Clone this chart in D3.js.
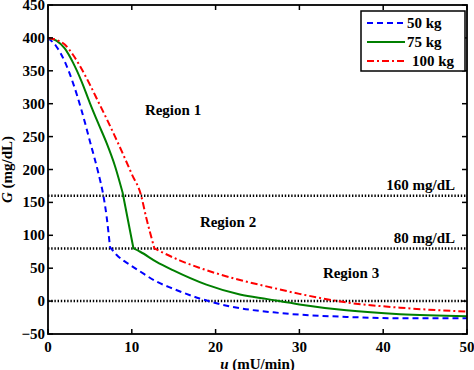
<!DOCTYPE html>
<html><head><meta charset="utf-8">
<script src="https://cdn.jsdelivr.net/npm/d3@7"></script>
<style>body{margin:0;background:#fff}svg{display:block}text{font-family:"Liberation Serif","Times New Roman",serif;font-weight:bold;font-size:15px;fill:#000}</style>
</head><body>
<script>
const xTicks = [0,10,20,30,40,50];
const yTicks = [-50,0,50,100,150,200,250,300,350,400,450];
const seriesNames = ["50 kg","75 kg","100 kg"];
const u50 = [0,1,2,3,4,5,6,6.6,7.0,7.4,8.2,9.8,11,12.9,14.9,18.1,21.7,27.6,35.6,42,50];
const g50 = [400,387,364,331,290,243,195,161,128,82,70,55,45,30,19,4,-8,-18,-24,-26,-26];
const kinks50 = [9];
const u75 = [0,1,2,3,4,5,6,7,8,8.9,10.2,11,12.9,14.9,18.9,22.9,26.2,30,35.6,42,50];
const g75 = [400,396,384,362,334,301,270,240,205,165,80,75,60,47,25,10,3,-5,-14,-20,-23];
const kinks75 = [9,10];
const u100 = [0,1,2,3,4,5,6,7,8,9,10,11.1,11.7,12.7,15.7,18.9,22.9,26.2,30,35.6,42,50];
const g100 = [400,397,390,374,353,329,303,277,250,222,193,161,128,80,62,47,32,22,11,-2,-10,-16];
const kinks100 = [13];
const thresholds = [160,80,0];
const thresholdLabels = ["160 mg/dL","80 mg/dL"];
const regionLabels = ["Region 1","Region 2","Region 3"];

const W=474,H=370;
const svg=d3.select("body").append("svg").attr("width",W).attr("height",H);
const x=d3.scaleLinear().domain([0,50]).range([48,467]);
const y=d3.scaleLinear().domain([-50,450]).range([334,5]);
const X0=x(0),X1=x(50),Y0=y(-50),Y1=y(450);

svg.selectAll("line.th").data(thresholds).enter().append("line")
  .attr("x1",X0).attr("x2",X1).attr("y1",d=>y(d)).attr("y2",d=>y(d))
  .attr("stroke","#000").attr("stroke-width",2.5).attr("stroke-dasharray","1.4,1.8");

const series=[
  {u:u50,g:g50,k:kinks50,color:"#0000ff",dash:"6,4"},
  {u:u75,g:g75,k:kinks75,color:"#007f00",dash:null},
  {u:u100,g:g100,k:kinks100,color:"#ff0000",dash:"7,3,2,3"}
];
const line=d3.line().x(d=>x(d[0])).y(d=>y(d[1])).curve(d3.curveMonotoneX);
const lineLin=d3.line().x(d=>x(d[0])).y(d=>y(d[1]));
series.forEach(s=>{
  const pts=s.u.map((v,i)=>[v,s.g[i]]);
  const cuts=[0,...s.k,pts.length-1];
  let d="";
  for(let j=0;j<cuts.length-1;j++){
    const seg=pts.slice(cuts[j],cuts[j+1]+1);
    let sd=seg.length>2?line(seg):lineLin(seg);
    if(j>0)sd="L"+sd.slice(1);
    d+=sd;
  }
  const p=svg.append("path").attr("d",d).attr("fill","none")
    .attr("stroke",s.color).attr("stroke-width",2).attr("stroke-linejoin","round");
  if(s.dash)p.attr("stroke-dasharray",s.dash);
});

svg.append("rect").attr("x",X0).attr("y",Y1).attr("width",X1-X0).attr("height",Y0-Y1)
  .attr("fill","none").attr("stroke","#000").attr("stroke-width",1.8);

const tl=5;
xTicks.forEach(t=>{
  svg.append("line").attr("x1",x(t)).attr("x2",x(t)).attr("y1",Y0).attr("y2",Y0-tl).attr("stroke","#000").attr("stroke-width",1.5);
  svg.append("line").attr("x1",x(t)).attr("x2",x(t)).attr("y1",Y1).attr("y2",Y1+tl).attr("stroke","#000").attr("stroke-width",1.5);
  svg.append("text").attr("x",x(t)).attr("y",352).attr("text-anchor","middle").text(t);
});
yTicks.forEach(t=>{
  svg.append("line").attr("x1",X0).attr("x2",X0+tl).attr("y1",y(t)).attr("y2",y(t)).attr("stroke","#000").attr("stroke-width",1.5);
  svg.append("line").attr("x1",X1).attr("x2",X1-tl).attr("y1",y(t)).attr("y2",y(t)).attr("stroke","#000").attr("stroke-width",1.5);
  svg.append("text").attr("x",45).attr("y",y(t)+5).attr("text-anchor","end").text(t<0?"\u2212"+(-t):t);
});

const xl=svg.append("text").attr("x",(X0+X1)/2).attr("y",369).attr("text-anchor","middle");
xl.append("tspan").attr("font-style","italic").text("u");
xl.append("tspan").text(" (mU/min)");
const yl=svg.append("text").attr("transform",`translate(12,${(Y0+Y1)/2}) rotate(-90)`).attr("text-anchor","middle");
yl.append("tspan").attr("font-style","italic").text("G");
yl.append("tspan").text(" (mg/dL)");

const regPos=[[173,115],[228,227],[351,278]];
regionLabels.forEach((r,i)=>svg.append("text").attr("x",regPos[i][0]).attr("y",regPos[i][1]).attr("text-anchor","middle").text(r));
svg.append("text").attr("x",455).attr("y",y(160)-6).attr("text-anchor","end").text(thresholdLabels[0]);
svg.append("text").attr("x",455).attr("y",y(80)-5).attr("text-anchor","end").text(thresholdLabels[1]);

const lg=svg.append("g");
lg.append("rect").attr("x",361).attr("y",11).attr("width",104).attr("height",60)
  .attr("fill","#fff").attr("stroke","#000").attr("stroke-width",1.5);
series.forEach((s,i)=>{
  const yy=23+i*19;
  const l=lg.append("line").attr("x1",367).attr("x2",405).attr("y1",yy).attr("y2",yy)
    .attr("stroke",s.color).attr("stroke-width",2);
  if(s.dash)l.attr("stroke-dasharray",s.dash);
  lg.append("text").attr("x",i==2?412:407).attr("y",yy+5).text(seriesNames[i]);
});
</script>
</body></html>
